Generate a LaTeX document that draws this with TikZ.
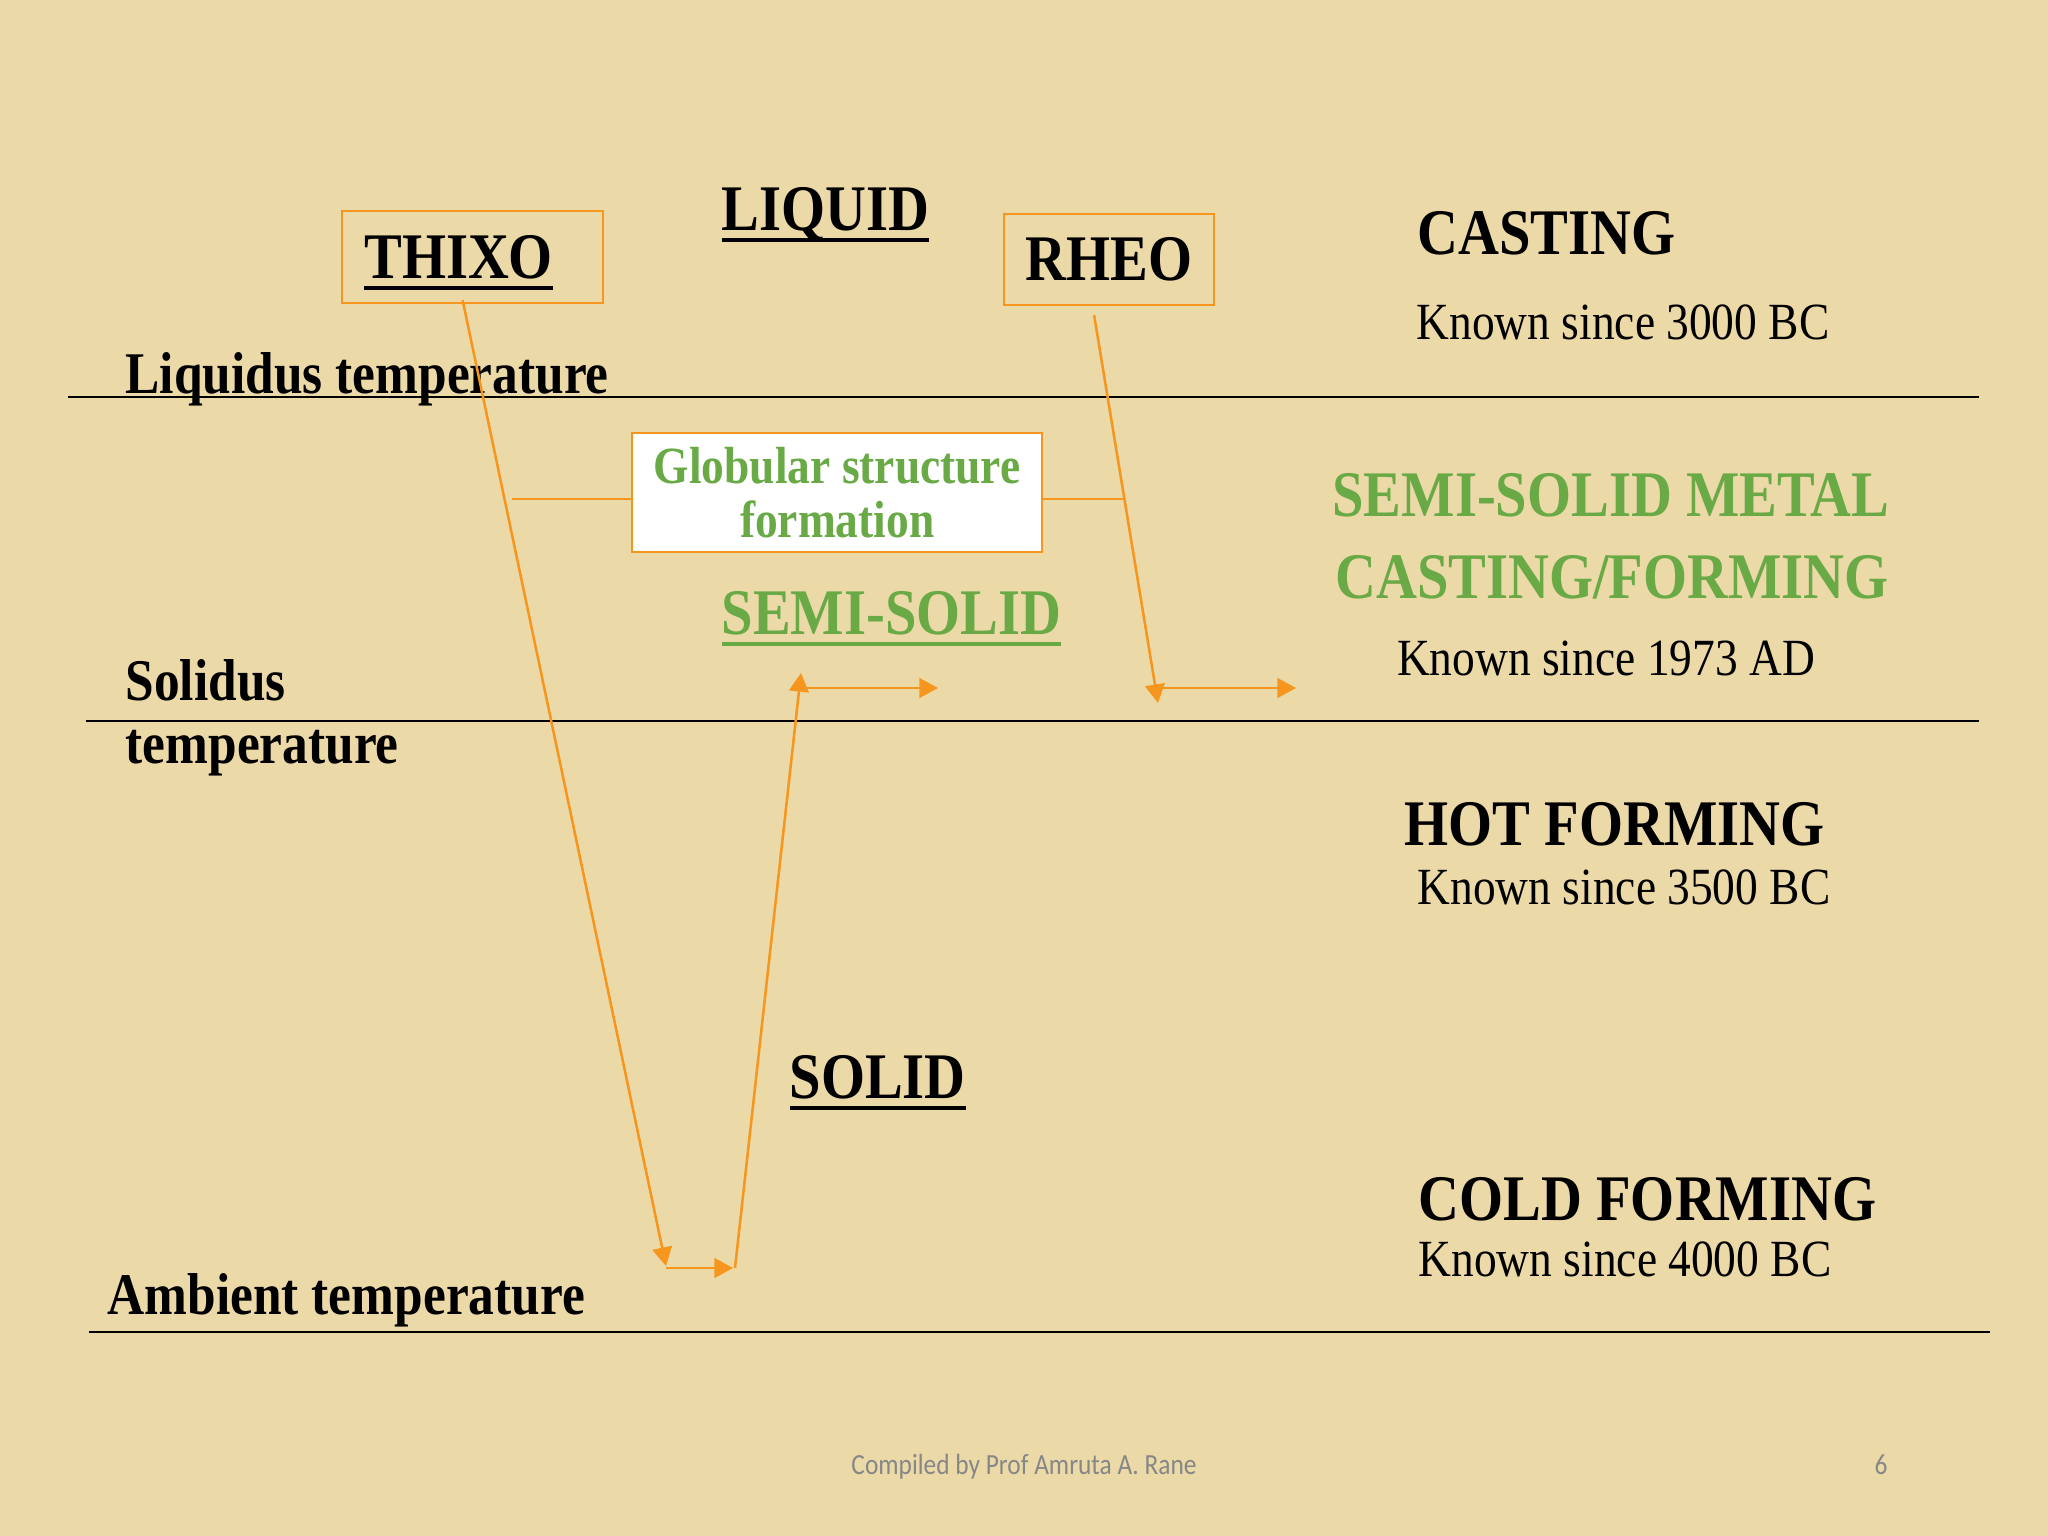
\documentclass[tikz,border=0pt]{standalone}
\usepackage{fontspec}
\setmainfont{Liberation Serif}[FakeStretch=0.87]
\newfontfamily\footfont{Carlito}[FakeStretch=0.87]
\usetikzlibrary{arrows.meta}
\definecolor{paper}{RGB}{235,217,168}
\definecolor{arrorange}{RGB}{247,150,30}
\definecolor{txtgreen}{RGB}{106,170,70}
\definecolor{footgray}{RGB}{135,135,135}
\newcommand\ulx[1]{\setbox0\hbox{#1}\rlap{\rule[-0.19em]{\wd0}{0.065em}}\box0}
\tikzset{
  hline/.style={draw=black, line width=0.55pt},
  bigt/.style={anchor=base west, inner sep=0pt, font=\fontsize{18.5}{22}\selectfont\bfseries},
  medt/.style={anchor=base west, inner sep=0pt, font=\fontsize{16.8}{20}\selectfont\bfseries},
  knw/.style={anchor=base west, inner sep=0pt, font=\fontsize{14.85}{18}\selectfont},
  obox/.style={draw=arrorange, line width=0.6pt, inner sep=0pt, anchor=north west},
  arr/.style={draw=arrorange, line width=0.72pt, -{Triangle[length=5.3pt,width=5.6pt]}},
  conn/.style={draw=arrorange, line width=0.6pt},
  foot/.style={anchor=base, inner sep=0pt, text=footgray, font=\footfont\fontsize{8.3}{10}\selectfont}
}
\begin{document}
\begin{tikzpicture}[x=0.01cm,y=-0.01cm]
\fill[paper] (0,0) rectangle (2048,1536);
\useasboundingbox (0,0) rectangle (2048,1536);

% temperature lines
\draw[hline] (68,397) -- (1979,397);
\draw[hline] (86,721) -- (1979,721);
\draw[hline] (89,1332) -- (1990,1332);

% boxes
\node[obox, minimum width=2.61cm, text height=0.67cm, text depth=0.25cm,
      font=\fontsize{18.5}{22}\selectfont\bfseries] (thixo) at (341,210) {\ulx{THIXO}\hspace*{0.28cm}};
\node[obox, minimum width=2.10cm, text height=0.66cm, text depth=0.25cm,
      font=\fontsize{18.5}{22}\selectfont\bfseries] (rheo) at (1003,213) {RHEO};
\node[obox, fill=white, minimum width=4.10cm, minimum height=1.19cm, align=center,
      text=txtgreen, font=\fontsize{14.85}{15.6}\selectfont\bfseries] (glob) at (631,432)
      {Globular structure\\formation};

% texts
\node[bigt] (liquid) at (721,230) {\ulx{LIQUID}};
\node[bigt] (casting) at (1417,254) {CASTING};
\node[knw] (k3000) at (1416,339) {Known since 3000 BC};
\node[medt] (liqT) at (125,393) {Liquidus temperature};
\node[bigt, text=txtgreen] (semisolid) at (721,634) {\ulx{SEMI-SOLID}};
\node[bigt, anchor=base, text=txtgreen] (ssm) at (1611,516) {SEMI-SOLID METAL};
\node[bigt, anchor=base, text=txtgreen] (ssf) at (1612,598) {CASTING/FORMING};
\node[knw, anchor=base] (k1973) at (1606,675) {Known since 1973 AD};
\node[medt] (solT1) at (125,700) {Solidus};
\node[medt] (solT2) at (125,763) {temperature};
\node[bigt] (hot) at (1404,845) {HOT FORMING};
\node[knw] (k3500) at (1417,904) {Known since 3500 BC};
\node[bigt] (solid) at (789,1098) {\ulx{SOLID}};
\node[bigt] (cold) at (1418,1220) {COLD FORMING};
\node[knw] (k4000) at (1418,1276) {Known since 4000 BC};
\node[medt] (ambT) at (107,1314) {Ambient temperature};
\node[foot] (footer) at (1024,1474) {Compiled by Prof Amruta A. Rane};
\node[foot] (pageno) at (1881,1474) {6};

% path points
\coordinate (t1) at (666,1266);
\coordinate (t2a) at (666,1268);
\coordinate (t2) at (733,1268);
\coordinate (t3a) at (735,1268);
\coordinate (t3) at (801,673);
\coordinate (t4) at (801,688);
\coordinate (t5) at (938,688);
\coordinate (r1) at (1158,703);
\coordinate (r2a) at (1158,688);
\coordinate (r2) at (1296,688);
\coordinate (gl) at (512,499);
\coordinate (gr) at (1124,499);

% thixo route
\draw[arr] ([xshift=-0.1cm,yshift=0.04cm]thixo.south) -- (t1);
\draw[arr] (t2a) -- (t2);
\draw[arr] (t3a) -- (t3);
\draw[arr] (t4) -- (t5);
% rheo route
\draw[arr] ([xshift=-0.15cm,yshift=-0.09cm]rheo.south) -- (r1);
\draw[arr] (r2a) -- (r2);
% globular connectors
\draw[conn] (gl) -- (gl -| glob.west);
\draw[conn] (glob.east |- gr) -- (gr);
\end{tikzpicture}
\end{document}
